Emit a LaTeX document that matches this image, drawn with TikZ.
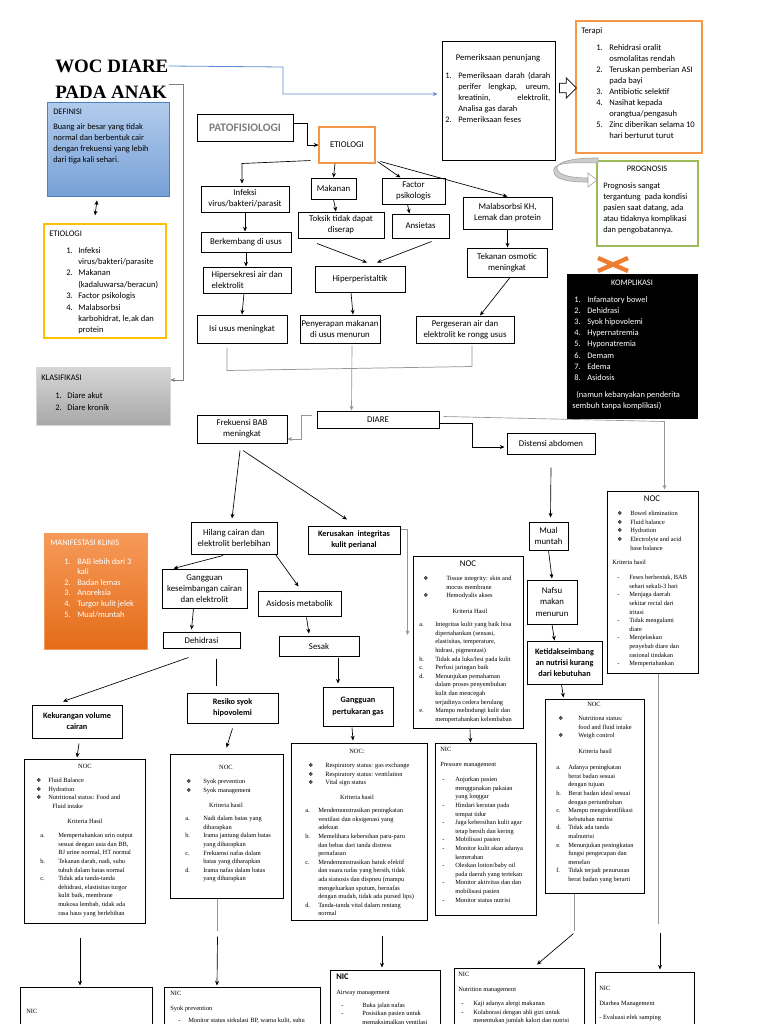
\documentclass[tikz,border=0pt]{standalone}
\usepackage{fontspec}
\setmainfont{Carlito}
\newfontfamily\tmsf{Liberation Serif}
\newfontfamily\djv{DejaVu Sans}
\usetikzlibrary{arrows.meta,calc,shapes.arrows}
\definecolor{cblue}{RGB}{79,129,189}
\definecolor{cbluet}{RGB}{178,204,237}
\definecolor{cblueb}{RGB}{120,160,214}
\definecolor{cgold}{RGB}{255,192,0}
\definecolor{corng}{RGB}{247,150,70}
\definecolor{corngt}{RGB}{246,154,90}
\definecolor{corngb}{RGB}{228,108,24}
\definecolor{cx}{RGB}{237,125,49}
\definecolor{cgreen}{RGB}{155,187,89}
\definecolor{cgrayt}{RGB}{214,214,214}
\definecolor{cgrayb}{RGB}{168,168,168}
\definecolor{cline}{RGB}{150,150,150}
\definecolor{cpato}{RGB}{125,125,125}
\definecolor{cbluel}{RGB}{91,140,208}
\newcommand\myfs[2]{\fontsize{#1}{#2}\selectfont}
\newcommand\sfs{\myfs{6.6}{8.3}}
\newcommand\bfs{\myfs{6.2}{8.3}\bfseries}
\newcommand\ntf{\tmsf\myfs{4.8}{6.45}}
\newcommand\ttlf{\tmsf\bfseries\myfs{14.2}{16}}
\newcommand\dia{{\djv\fontsize{4.2}{5}\selectfont ❖}}
\newcommand\mylb[2]{\makebox[#1][l]{#2}}
\newcommand\myhs[1]{\hspace*{#1}}
\newcommand\mybox[7][]{\node[box,#1,minimum width={(#4-#2)*0.75pt},minimum height={(#5-#3)*0.75pt}] (#6) at ({(#2+#4)/2},{(#3+#5)/2}) {#7};}
\tikzset{
 box/.style={draw, line width=0.75pt, inner sep=1pt, align=center, font=\sfs, fill=white},
 tx/.style={inner sep=0pt, anchor=north west, align=left},
 arr/.style={-{Stealth[length=3.5pt,width=3pt]}, line width=0.5pt},
 garr/.style={arr, draw=cline},
 gline/.style={line width=0.55pt, draw=cline},
 defibox/.style={top color=cbluet, bottom color=cblueb, draw=cblue, line width=0.6pt},
 klasbox/.style={top color=cgrayt, bottom color=cgrayb, draw=cgrayt, line width=0.6pt},
 manibox/.style={top color=corngt, bottom color=corngb, draw=corngt, line width=0.6pt},
}
\begin{document}
\begin{tikzpicture}[x=0.75pt,y=-0.75pt]
\useasboundingbox (0,0) rectangle (768,1024);
\clip (0,0) rectangle (768,1024);
\fill[white] (0,0) rectangle (768,1024);

% ---------- titles ----------
\node[inner sep=0, anchor=west, font=\ttlf] (title1) at (55,66) {WOC DIARE};
\node[inner sep=0, anchor=west, font=\ttlf] (title2) at (55,92) {PADA ANAK};

% ---------- left column ----------
\mybox[defibox]{47}{102}{169}{196}{defi}{}
\mybox[draw=cgold,line width=1pt]{44}{224}{166}{338}{etiL}{}
\mybox[klasbox]{36}{367}{170}{425}{klas}{}
\mybox[manibox]{44}{533}{147}{649}{mani}{}

\node[tx, font={\myfs{6.3}{8.25}}] (tdef) at (53,109) {DEFINISI\\[2.5pt]Buang air besar yang tidak\\normal dan berbentuk cair\\dengan frekuensi yang lebih\\dari tiga kali sehari.};
\node[tx, font={\myfs{6.4}{8.55}}] (tetiL) at (49,231) {ETIOLOGI};
\node[tx, font={\myfs{6.4}{8.55}}] (tetiLl) at (66,247) {\mylb{9pt}{1.}Infeksi\\\myhs{9pt}virus/bakteri/parasite\\\mylb{9pt}{2.}Makanan\\\myhs{9pt}(kadaluwarsa/beracun)\\\mylb{9pt}{3.}Factor psikologis\\\mylb{9pt}{4.}Malabsorbsi\\\myhs{9pt}karbohidrat, le,ak dan\\\myhs{9pt}protein};
\node[tx, font={\myfs{6.4}{9}}] (tklas) at (41,375) {KLASIFIKASI};
\node[tx, font={\myfs{6.4}{9}}] (tklasl) at (55,392) {\mylb{9pt}{1.}Diare akut\\\mylb{9pt}{2.}Diare kronik};
\node[tx, font={\myfs{6.3}{7.95}}, text=white] (tmani) at (50,540) {MANIFESTASI KLINIS};
\node[tx, font={\myfs{6.3}{7.95}}, text=white] (tmanil) at (64,558) {\mylb{9.75pt}{1.}BAB lebih dari 3\\\myhs{9.75pt}kali\\\mylb{9.75pt}{2.}Badan lemas\\\mylb{9.75pt}{3.}Anoreksia\\\mylb{9.75pt}{4.}Turgor kulit jelek\\\mylb{9.75pt}{5.}Mual/muntah};

% ---------- top right ----------
\mybox{442}{42}{555}{160}{peme}{}
\mybox[draw=corng,line width=0.8pt]{576}{21}{702}{153}{tera}{}
\mybox[draw=cgreen,line width=0.8pt]{597}{161}{698}{246}{prog}{}
\mybox[fill=black]{567}{274}{697}{418}{komp}{}

\node[inner sep=0, font={\myfs{6.5}{8.25}}] (tpem) at (498,58) {Pemeriksaan penunjang};
\node[tx, font={\myfs{6.3}{8.25}}] (tpeml) at (445,72) {\mylb{9.75pt}{1.}\makebox[69pt][s]{Pemeriksaan darah (darah}\\\myhs{9.75pt}\makebox[69pt][s]{perifer lengkap, ureum,}\\\myhs{9.75pt}\makebox[69pt][s]{kreatinin, elektrolit,}\\\myhs{9.75pt}Analisa gas darah\\\mylb{9.75pt}{2.}Pemeriksaan feses};
\node[tx, font={\myfs{6.4}{8.25}}] (tter) at (581,27) {Terapi};
\node[tx, font={\myfs{6.4}{8.25}}] (tterl) at (596,44) {\mylb{9.75pt}{1.}Rehidrasi oralit\\\myhs{9.75pt}osmolalitas rendah\\\mylb{9.75pt}{2.}Teruskan pemberian ASI\\\myhs{9.75pt}pada bayi\\\mylb{9.75pt}{3.}Antibiotic selektif\\\mylb{9.75pt}{4.}Nasihat kepada\\\myhs{9.75pt}orangtua/pengasuh\\\mylb{9.75pt}{5.}Zinc diberikan selama 10\\\myhs{9.75pt}hari berturut turut};
\node[inner sep=0, font={\myfs{6.3}{8.25}}] (tprog) at (647,169) {PROGNOSIS};
\node[tx, font={\myfs{6.3}{8.25}}] (tprogl) at (603,182) {Prognosis sangat\\tergantung\ \ pada kondisi\\pasien saat datang, ada\\atau tidaknya komplikasi\\dan pengobatannya.};
\node[inner sep=0, font={\myfs{6.3}{8.4}}, text=white] (tkomp) at (632,283) {KOMPLIKASI};
\node[tx, font={\myfs{6.3}{8.4}}, text=white] (tkompl) at (574,296) {\mylb{9.75pt}{1.}Infamatory bowel\\\mylb{9.75pt}{2.}Dehidrasi\\\mylb{9.75pt}{3.}Syok hipovolemi\\\mylb{9.75pt}{4.}Hypernatremia\\\mylb{9.75pt}{5.}Hyponatremia\\\mylb{9.75pt}{6.}Demam\\\mylb{9.75pt}{7.}Edema\\\mylb{9.75pt}{8.}Asidosis};
\node[tx, font={\myfs{6.3}{8.6}}, text=white] (tkompn) at (572,391) {\myhs{3pt}(namun kebanyakan penderita\\sembuh tanpa komplikasi)};

% block arrow, curved arrow, orange cross
\node[single arrow, draw, line width=0.6pt, fill=white, minimum height=12.75pt, minimum width=15pt, inner sep=3.3pt, single arrow head extend=4pt] (blk) at (565.5,88) {};
\draw[draw=gray!70, line width=0.5pt, fill=gray!40] (598,158) .. controls (560,158) and (551,166) .. (560,173) .. controls (566,177) and (578,178) .. (588,178) -- (588,182) .. controls (570,182) and (556,180) .. (554,173) .. controls (551,163) and (566,162) .. (598,163) -- cycle;
\draw[draw=gray!70, line width=0.5pt, fill=white] (588,173) -- (597,180) -- (588,187) -- cycle;
\draw[draw=cx, line width=3.2pt] (598,258) -- (628,271) (598,271) -- (628,258);

% ---------- flow boxes ----------
\mybox[text=cpato, font={\myfs{8.6}{10}\bfseries}]{197}{114}{293}{141}{pato}{PATOFISIOLOGI}
\mybox[draw=corng,line width=0.8pt]{319}{127}{375}{163}{etiC}{ETIOLOGI}
\mybox{201}{186}{289}{212}{infe}{Infeksi\\virus/bakteri/parasit}
\mybox{311}{178}{356}{199}{maka}{Makanan}
\mybox{382}{178}{445}{204}{fact}{Factor\\psikologis}
\mybox{463}{197}{552}{229}{mala}{Malabsorbsi KH,\\Lemak dan protein}
\mybox{298}{212}{384}{238}{toks}{Toksik tidak dapat\\diserap}
\mybox{392}{214}{449}{238}{ansi}{Ansietas}
\mybox{201}{232}{291}{252}{berk}{Berkembang di usus}
\mybox[align=left]{203}{267}{291}{293}{hipe}{Hipersekresi air dan\\elektrolit}
\mybox{315}{266}{405}{292}{hipp}{Hiperperistaltik}
\mybox{467}{248}{547}{277}{teka}{Tekanan osmotic\\meningkat}
\mybox{197}{315}{287}{343}{isiu}{Isi usus meningkat}
\mybox{300}{315}{380}{343}{peny}{Penyerapan makanan\\di usus menurun}
\mybox{416}{316}{514}{343}{perg}{Pergeseran air dan\\elektrolit ke rongg usus}
\mybox{317}{411}{439}{428}{diare}{DIARE}
\mybox{197}{415}{287}{443}{frek}{Frekuensi BAB\\meningkat}
\mybox{507}{433}{595}{454}{dist}{Distensi abdomen}
\mybox{191}{522}{277}{554}{hila}{Hilang cairan dan\\elektrolit berlebihan}
\mybox[font=\bfs]{308}{526}{400}{554}{keru}{Kerusakan\ \ integritas\\kulit perianal}
\mybox{529}{522}{568}{550}{mual}{Mual\\muntah}
\mybox{162}{569}{247}{608}{gang}{Gangguan\\keseimbangan cairan\\dan elektrolit}
\mybox{258}{591}{341}{616}{asid}{Asidosis metabolik}
\mybox{527}{580}{577}{624}{nafs}{Nafsu\\makan\\menurun}
\mybox{163}{632}{240}{648}{dehi}{Dehidrasi}
\mybox{279}{636}{359}{656}{sesa}{Sesak}
\mybox[font=\bfs]{527}{641}{602}{684}{ketd}{Ketidakseimbang\\an nutrisi kurang\\dari kebutuhan}
\mybox[font=\bfs]{32}{705}{122}{738}{kekv}{Kekurangan volume\\cairan}
\mybox[font=\bfs]{187}{693}{278}{723}{resi}{Resiko syok\\hipovolemi}
\mybox[font=\bfs]{323}{687}{393}{726}{gpg}{Gangguan\\pertukaran gas}

% ---------- NOC / NIC boxes ----------
\mybox{413}{556}{523}{728}{nocT}{}
\mybox{607}{491}{698}{673}{nocB}{}
\mybox{545}{699}{644}{893}{nocN}{}
\mybox{24}{759}{145}{923}{nocF}{}
\mybox{170}{754}{283}{898}{nocS}{}
\mybox{291}{743}{427}{920}{nocG}{}
\mybox{435}{743}{536}{915}{nicP}{}
\mybox{20}{987}{152}{1040}{nicL}{}
\mybox{164}{987}{320}{1040}{nicS}{}
\mybox{330}{970}{440}{1040}{nicA}{}
\mybox{454}{968}{584}{1040}{nicN}{}
\mybox{595}{972}{694}{1040}{nicD}{}

% NOC tissue
\node[inner sep=0, font=\sfs] (tnT) at (468,564) {NOC};
\node[tx, font=\ntf] (tnT1) at (423,576) {\mylb{17.25pt}{\dia}Tissue integrity: skin and\\\myhs{17.25pt}mocus membrane\\\mylb{17.25pt}{\dia}Hemodyalis akses};
\node[inner sep=0, font=\ntf] (tnT2) at (470,611) {Kriteria Hasil};
\node[tx, font=\ntf] (tnT3) at (419,622) {\mylb{12pt}{a.}Integritas kulit yang baik bisa\\\myhs{12pt}dipertahankan (sensasi,\\\myhs{12pt}elastisitas, temperature,\\\myhs{12pt}hidrasi, pigmentasi)\\\mylb{12pt}{b.}Tidak ada luka/lesi pada kulit\\\mylb{12pt}{c.}Perfusi jaringan baik\\\mylb{12pt}{d.}Menunjukan pemahaman\\\myhs{12pt}dalam proses penyembuhan\\\myhs{12pt}kulit dan mencegah\\\myhs{12pt}terjadinya cedera berulang\\\mylb{12pt}{e.}Mampu melindungi kulit dan\\\myhs{12pt}mempertahankan kelembaban};
% NOC bowel
\node[inner sep=0, font=\sfs] (tnB) at (652,499) {NOC};
\node[tx, font=\ntf] (tnB1) at (617,511) {\mylb{9.75pt}{\dia}Bowel elimination\\\mylb{9.75pt}{\dia}Fluid balance\\\mylb{9.75pt}{\dia}Hydration\\\mylb{9.75pt}{\dia}Electrolyte and acid\\\myhs{9.75pt}base balance};
\node[tx, font=\ntf] (tnB2) at (612,560) {Kriteria hasil};
\node[tx, font=\ntf] (tnB3) at (617,575) {\mylb{9pt}{-}Feses berbentuk, BAB\\\myhs{9pt}sehari sekali-3 hari\\\mylb{9pt}{-}Menjaga daerah\\\myhs{9pt}sekitar rectal dari\\\myhs{9pt}iritasi\\\mylb{9pt}{-}Tidak mengalami\\\myhs{9pt}diare\\\mylb{9pt}{-}Menjelaskan\\\myhs{9pt}penyebab diare dan\\\myhs{9pt}rasional tindakan\\\mylb{9pt}{-}Mempertahankan};
% NOC nutrition
\node[inner sep=0, font=\ntf] (tnN) at (594,704) {NOC};
\node[tx, font=\ntf] (tnN1) at (558,716) {\mylb{15pt}{\dia}Nutritiona status:\\\myhs{15pt}food and fluid intake\\\mylb{15pt}{\dia}Weigh control};
\node[tx, font=\ntf] (tnN2) at (578,749) {Kriteria hasil};
\node[tx, font=\ntf] (tnN3) at (556,765) {\mylb{9pt}{a.}Adanya peningkatan\\\myhs{9pt}berat badan sesuai\\\myhs{9pt}dengan tujuan\\\mylb{9pt}{b.}Berat badan ideal sesuai\\\myhs{9pt}dengan pertumbuhan\\\mylb{9pt}{c.}Mampu mengidentifikasi\\\myhs{9pt}kebutuhan nutrisi\\\mylb{9pt}{d.}Tidak ada tanda\\\myhs{9pt}malnutrisi\\\mylb{9pt}{e.}Menunjukan peningkatan\\\myhs{9pt}fungsi pengecapan dan\\\myhs{9pt}menelan\\\mylb{9pt}{f.}Tidak terjadi penurunan\\\myhs{9pt}berat badan yang berarti};
% NOC fluid
\node[inner sep=0, font=\ntf] (tnF) at (85,766) {NOC};
\node[tx, font=\ntf] (tnF1) at (36,778) {\mylb{9pt}{\dia}Fluid Balance\\\mylb{9pt}{\dia}Hydration\\\mylb{9pt}{\dia}Nutritional status: Food and\\\myhs{12pt}Fluid intake};
\node[inner sep=0, font=\ntf] (tnF2) at (85,821) {Kriteria Hasil};
\node[tx, font=\ntf] (tnF3) at (40,833) {\mylb{13.5pt}{a.}Mempertahankan urin output\\\myhs{13.5pt}sesuai dengan usia dan BB,\\\myhs{13.5pt}BJ urine normal, HT normal\\\mylb{13.5pt}{b.}Tekanan darah, nadi, suhu\\\myhs{13.5pt}tubuh dalam batas normal\\\mylb{13.5pt}{c.}Tidak ada tanda-tanda\\\myhs{13.5pt}dehidrasi, elastisitas turgor\\\myhs{13.5pt}kulit baik, membrane\\\myhs{13.5pt}mukosa lembab, tidak ada\\\myhs{13.5pt}rasa haus yang berlebihan};
% NOC syok
\node[inner sep=0, font=\ntf] (tnS) at (226,767) {NOC};
\node[tx, font=\ntf] (tnS1) at (186,779) {\mylb{12.75pt}{\dia}Syok prevention\\\mylb{12.75pt}{\dia}Syok management};
\node[inner sep=0, font=\ntf] (tnS2) at (226,805) {Kriteria hasil};
\node[tx, font=\ntf] (tnS3) at (185,816) {\mylb{13.5pt}{a.}Nadi dalam batas yang\\\myhs{13.5pt}diharapkan\\\mylb{13.5pt}{b.}Irama jantung dalam batas\\\myhs{13.5pt}yang diharapkan\\\mylb{13.5pt}{c.}Frekuensi nafas dalam\\\myhs{13.5pt}batas yang diharapkan\\\mylb{13.5pt}{d.}Irama nafas dalam batas\\\myhs{13.5pt}yang diharapkan};
% NOC gas
\node[inner sep=0, font=\ntf] (tnG) at (357,751) {NOC:};
\node[tx, font=\ntf] (tnG1) at (308,763) {\mylb{12.75pt}{\dia}Respiratory status: gas exchange\\\mylb{12.75pt}{\dia}Respiratory status: ventilation\\\mylb{12.75pt}{\dia}Vital sign status};
\node[inner sep=0, font=\ntf] (tnG2) at (357,797) {Kriteria hasil};
\node[tx, font=\ntf] (tnG3) at (305,808) {\mylb{9.75pt}{a.}Mendemonstrasikan peningkatan\\\myhs{9.75pt}ventilasi dan oksigenasi yang\\\myhs{9.75pt}adekuat\\\mylb{9.75pt}{b.}Memelihara kebersihan paru-paru\\\myhs{9.75pt}dan bebas dari tanda distress\\\myhs{9.75pt}pernafasan\\\mylb{9.75pt}{c.}Mendemonstrasikan batuk efektif\\\myhs{9.75pt}dan suara nafas yang bersih, tidak\\\myhs{9.75pt}ada sianosis dan dispneu (mampu\\\myhs{9.75pt}mengeluarkan sputum, bernafas\\\myhs{9.75pt}dengan mudah, tidak ada pursed lips)\\\mylb{9.75pt}{d.}Tanda-tanda vital dalam rentang\\\myhs{9.75pt}normal};
% NIC pressure
\node[tx, font=\ntf] (tnP) at (440,747) {NIC};
\node[tx, font=\ntf] (tnP1) at (440,762) {Pressure management};
\node[tx, font=\ntf] (tnP2) at (442,777) {\mylb{9.75pt}{-}Anjurkan pasien\\\myhs{9.75pt}menggunakan pakaian\\\myhs{9.75pt}yang longgar\\\mylb{9.75pt}{-}Hindari kerutan pada\\\myhs{9.75pt}tempat tidur\\\mylb{9.75pt}{-}Jaga kebersihan kulit agar\\\myhs{9.75pt}tetap bersih dan kering\\\mylb{9.75pt}{-}Mobilisasi pasien\\\mylb{9.75pt}{-}Monitor kulit akan adanya\\\myhs{9.75pt}kemerahan\\\mylb{9.75pt}{-}Oleskan lotion/baby oil\\\myhs{9.75pt}pada daerah yang tertekan\\\mylb{9.75pt}{-}Monitor aktivitas dan dan\\\myhs{9.75pt}mobilisasi pasien\\\mylb{9.75pt}{-}Monitor status nutrisi};
% bottom NIC boxes
\node[tx, font=\ntf] (tnL) at (26,1009) {NIC};
\node[tx, font=\ntf] (tnSa) at (170,991) {NIC};
\node[tx, font=\ntf] (tnSb) at (170,1006) {Syok prevention};
\node[tx, font=\ntf] (tnSc) at (178,1018) {\mylb{7.5pt}{-}Monitor status sirkulasi BP, warna kulit, suhu};
\node[tx, font={\myfs{6.4}{8}\bfseries}] (tnAa) at (336,974) {NIC};
\node[tx, font=\ntf] (tnAb) at (336,990) {Airway management};
\node[tx, font={\tmsf\myfs{4.8}{6.1}}] (tnAc) at (341,1003) {\mylb{15.75pt}{-}Buka jalan nafas\\\mylb{15.75pt}{-}Posisikan pasien untuk\\\myhs{15.75pt}memaksimalkan ventilasi};
\node[tx, font=\ntf] (tnNa) at (458,972) {NIC};
\node[tx, font=\ntf] (tnNb) at (458,987) {Nutrition management};
\node[tx, font=\ntf] (tnNc) at (461,1001) {\mylb{9pt}{-}Kaji adanya alergi makanan\\\mylb{9pt}{-}Kolaborasi dengan ahli gizi untuk\\\myhs{9pt}menentukan jumlah kalori dan nutrisi};
\node[tx, font=\ntf] (tnDa) at (599,986) {NIC};
\node[tx, font=\ntf] (tnDb) at (599,1001) {Diarhea Management};
\node[tx, font=\ntf] (tnDc) at (599,1015) {- Evaluasi efek samping};

% ---------- connectors ----------
\draw[line width=0.6pt, draw=cbluel, -{Stealth[length=3.5pt,width=3pt]}] (title1.east) -- (283,67) -- (283,94) -- ($(peme.west)+(-4,-7)$);
\draw[garr, draw=gray] ($(title2.east)+(2,-8)$) -- ++(14,0) |- ($(klas.east)+(0,-16)$);
\draw[{Stealth[length=3.5pt,width=3pt]}-{Stealth[length=3.5pt,width=3pt]}, line width=0.5pt] ($(defi.south)+(-11,4)$) -- ($(etiL.north)+(-10,-8)$);

\draw[arr] ($(pato.east)+(0,-4.5)$) -- ++(14,0) |- (etiC.west);
\draw[arr] ($(etiC.south west)+(-8,-3)$) -- ($(infe.north)+(-3,-22)$) -- ($(infe.north)+(-3,-2)$);
\draw[arr] ($(etiC.south)+(-12,0)$) -- (maka.north);
\draw[arr] ($(etiC.south east)+(2,-2)$) -- ($(fact.north)+(-13,0)$);
\draw[arr] ($(etiC.south east)+(5,-2)$) -- (mala.north);
\draw[arr] (maka.south) -- ($(toks.north)+(-5,0)$);
\draw[arr] ($(fact.south)+(-6,0)$) -- ($(ansi.north)+(-11,0)$);
\draw[arr] (infe.south) -- (infe.south |- berk.north);
\draw[arr] (berk.south) -- (berk.south |- hipe.north);
\draw[arr] ($(hipe.south)+(-3,0)$) -- (isiu.north);
\draw[arr] ($(toks.south)+(-24,5)$) -- ($(hipp.north)+(7,-3)$);
\draw[arr] ($(ansi.south)+(11,3)$) -- ($(hipp.north)+(17,-3)$);
\draw[arr] ($(hipp.south)+(-9,0)$) -- ($(peny.north)+(13,0)$);
\draw[arr] (mala.south) -- (mala.south |- teka.north);
\draw[arr] ($(teka.south)+(3,0)$) -- ($(perg.north)+(15,0)$);
\draw[gline] ($(isiu.south)+(-15,4)$) -- ++(0,23) -- ($(perg.south)+(7,23)$) -- ($(perg.south)+(7,2)$);
\draw[garr] ($(peny.south)+(12,2)$) -- ($(diare.north west)+(35,0)$);
\draw[garr] ($(diare.west)+(-5,-4.5)$) -- ++(-10,0) |- ($(frek.east)+(0,10)$);
\draw[arr] ($(diare.east)+(0,3.5)$) -- ++(33,0) |- ($(dist.west)+(-2,3.5)$);
\draw[garr] ($(diare.north east)+(4,6)$) -- ($(nocB.north)+(12,-69)$) -- ($(nocB.north)+(12,-1)$);
\draw[arr] ($(frek.south)+(-2,7)$) -- ($(hila.north)+(-2,-3)$);
\draw[arr] ($(frek.south)+(1,7)$) -- ($(keru.north)+(-7,-6)$);
\draw[arr] ($(hila.south)+(-11,1)$) -- ($(gang.north)+(-31,0)$);
\draw[arr] ($(hila.south east)+(-2,0)$) -- ($(asid.north)+(-1,-4)$);
\draw[arr] ($(gang.south)+(-11,0)$) -- ($(dehi.north)+(-10,-2)$);
\draw[arr] ($(asid.south)+(7,1)$) -- ($(sesa.north)+(-10,-2)$);
\draw[arr] ($(dehi.south)+(-13,9)$) -- ($(kekv.north)+(-14,-3)$);
\draw[line width=0.5pt] ($(dehi.south)+(14.5,10)$) -- ($(resi.north)+(-16.5,-7)$);
\draw[arr] ($(sesa.south)+(19,1)$) -- ($(gpg.north)+(-20,-3)$);
\draw[arr] ($(kekv.south)+(2,5)$) -- ($(nocF.north)+(-7.5,-1)$);
\draw[arr] ($(resi.south)+(0,5)$) -- ($(nocS.north)+(0,-6)$);
\draw[arr] ($(gpg.south)+(-6,1)$) -- ($(nocG.north)+(-6,-2)$);
\draw[garr] ($(keru.east)+(0,-11)$) -- ++(7,0) -- ++(0,106);
\draw[arr] ($(dist.south)+(0,13)$) -- ($(mual.north)+(2,-4)$);
\draw[arr] (mual.south) -- ($(nafs.north)+(0,-1)$);
\draw[arr] (nafs.south) -- ($(ketd.north)+(-10,0)$);
\draw[arr] ($(ketd.south)+(-3,0)$) -- ($(nocN.north)+(-31,-1)$);
\draw[arr] ($(nocT.south)+(2,1)$) -- ($(nicP.north)+(-15,0)$);
\draw[arr] ($(nocF.south)+(-4.5,14)$) -- ($(nicL.north)+(-6,-1)$);
\draw[gline] ($(nocS.south)+(-9,0)$) -- ++(0,32);
\draw[arr] ($(nocS.south)+(-9,38)$) -- ($(nicS.north)+(-25,-1)$);
\draw[arr] ($(nocG.south)+(23,15)$) -- ($(nicA.north)+(-3,-2)$);
\draw[gline] ($(nocN.south)+(-20,0)$) -- ++(0,37);
\draw[arr] ($(nocN.south)+(-21,40)$) -- ($(nicN.north)+(18,-3)$);
\draw[gline] ($(nocB.south)+(5.5,0)$) -- ++(0,250);
\draw[arr] ($(nocB.south)+(7.5,259)$) -- ($(nicD.north)+(15.5,-2)$);
\end{tikzpicture}
\end{document}
